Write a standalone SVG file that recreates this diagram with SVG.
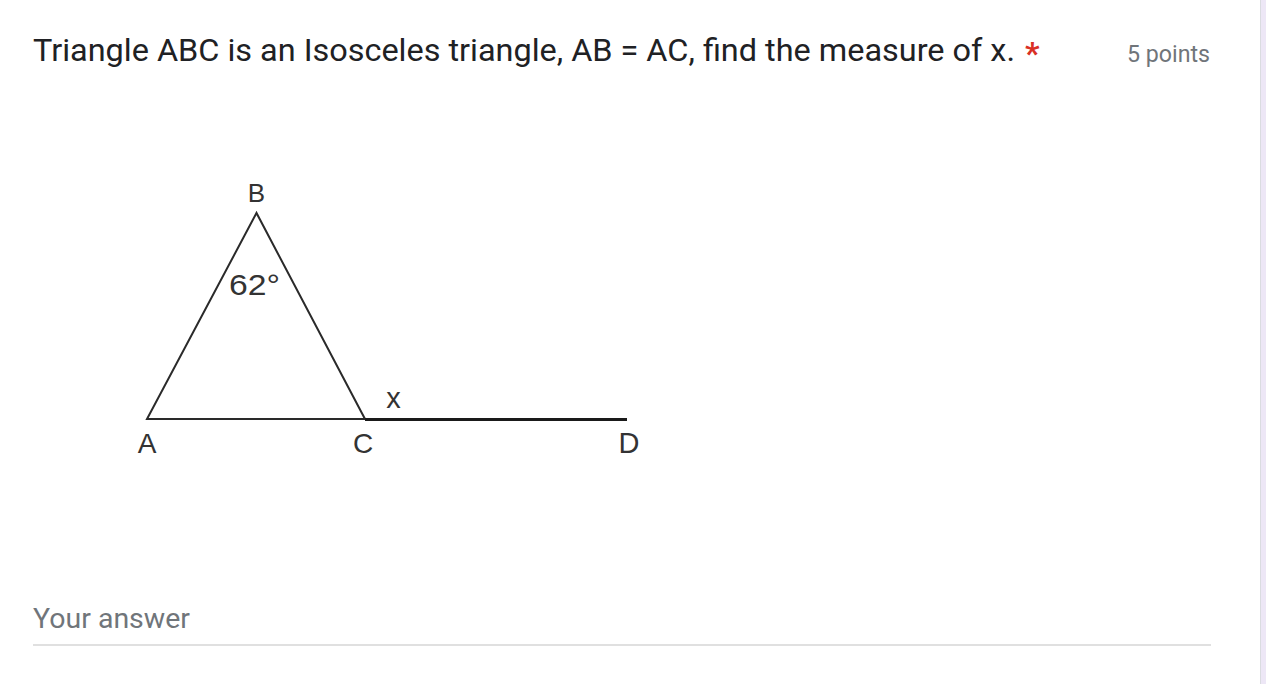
<svg xmlns="http://www.w3.org/2000/svg" width="1266" height="684" viewBox="0 0 1266 684">
  <style>
    .title { font-family: Roboto, "Liberation Sans", sans-serif; font-size: 32px; fill: #202124; }
    .meta { font-family: Roboto, "Liberation Sans", sans-serif; font-size: 24px; fill: #70757a; }
    .answer { font-family: Roboto, "Liberation Sans", sans-serif; font-size: 28px; fill: #70757a; }
    .lbl { font-family: "Liberation Sans", Arial, sans-serif; fill: #333333; text-anchor: middle; }
    .seg { stroke: #2a2a2a; stroke-width: 2; fill: none; stroke-linecap: round; stroke-linejoin: miter; }
  </style>
  <rect x="0" y="0" width="1266" height="684" fill="#ffffff"/>
  <rect x="1261" y="0" width="5" height="684" fill="#ede7f6"/>
  <line x1="1260.5" y1="0" x2="1260.5" y2="684" stroke="#dadce0" stroke-width="1"/>

  <g id="header">
    <text class="title" x="33" y="61" textLength="982" lengthAdjust="spacingAndGlyphs">Triangle ABC is an Isosceles triangle, AB = AC, find the measure of x.</text>
    <text x="1025" y="64" font-family="Roboto, 'Liberation Sans', sans-serif" font-size="32" font-weight="bold" fill="#d93025">*</text>
    <text class="meta" x="1127" y="62" textLength="83" lengthAdjust="spacingAndGlyphs">5 points</text>
  </g>

  <g id="connectors">
    <path class="seg" d="M365,419 L256.5,213 L147,419 Z"/>
    <line x1="365" y1="419.5" x2="627" y2="419.5" stroke="#1a1a1a" stroke-width="3"/>
  </g>

  <g id="node-B"><text class="lbl" x="256.5" y="202" style="font-size:26px">B</text></g>
  <g id="angle-B"><text class="lbl" x="229" y="295" style="font-size:30px;text-anchor:start" textLength="51" lengthAdjust="spacingAndGlyphs">62°</text></g>
  <g id="node-A"><text class="lbl" x="147" y="453" style="font-size:28px">A</text></g>
  <g id="node-C"><text class="lbl" x="363" y="453" style="font-size:28px">C</text></g>
  <g id="label-x"><text class="lbl" x="393.5" y="408" style="font-size:29px">x</text></g>
  <g id="node-D"><text class="lbl" x="629" y="453" style="font-size:29px">D</text></g>

  <g id="answer">
    <text class="answer" x="33" y="628" textLength="157" lengthAdjust="spacingAndGlyphs">Your answer</text>
    <line x1="33" y1="645" x2="1211" y2="645" stroke="#e0e0e0" stroke-width="2"/>
  </g>
</svg>
